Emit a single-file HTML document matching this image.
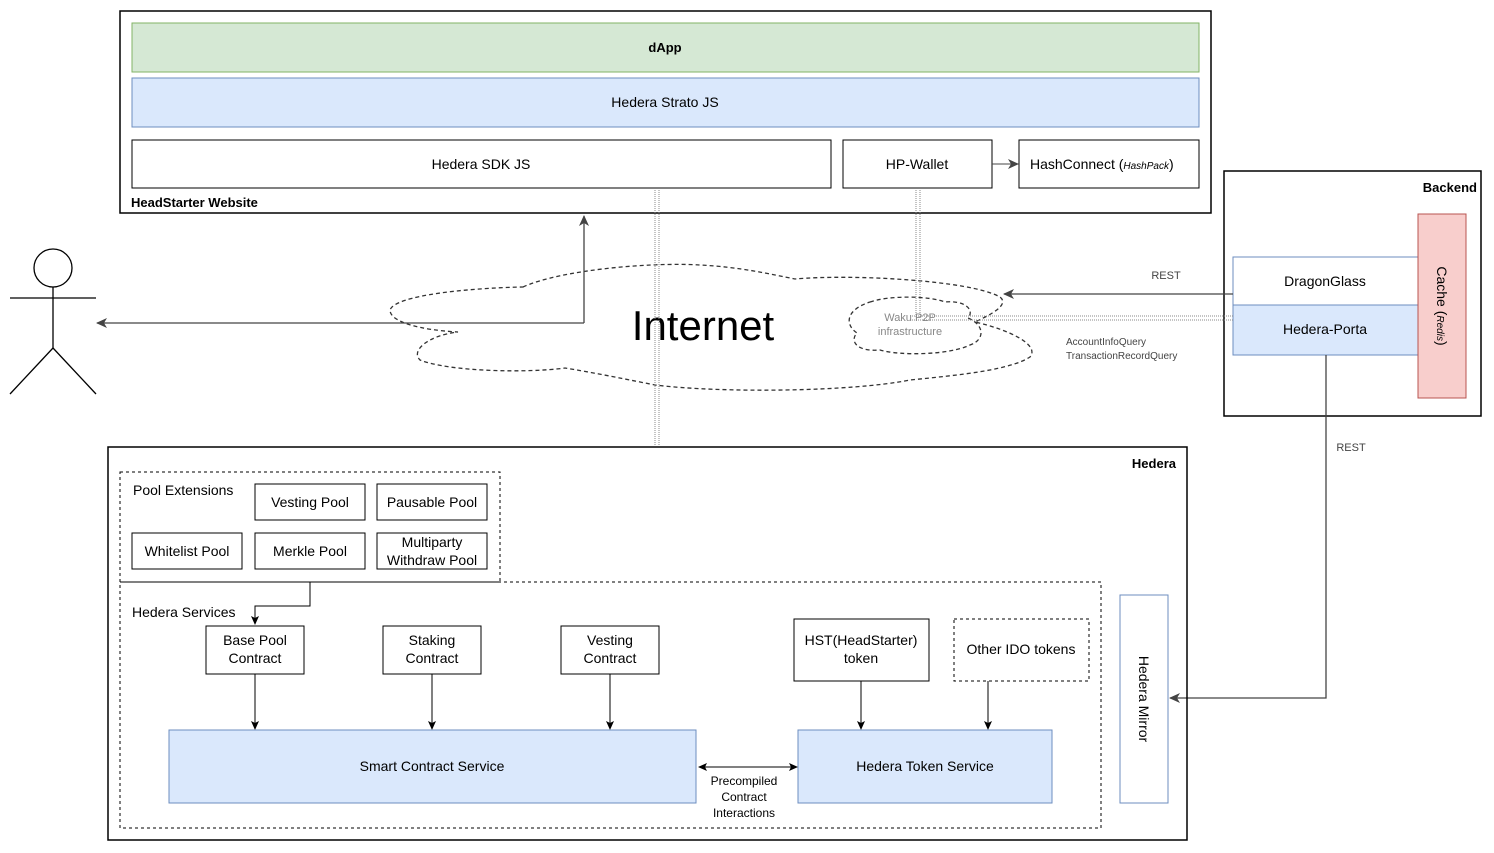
<!DOCTYPE html>
<html><head><meta charset="utf-8"><style>
html,body{margin:0;padding:0;background:#fff;}
svg{display:block;font-family:"Liberation Sans",Arial,sans-serif;}
</style></head><body>
<svg width="1494" height="853" viewBox="0 0 1494 853" xmlns="http://www.w3.org/2000/svg">
<defs>
<marker id="a" markerWidth="10" markerHeight="10" refX="8" refY="5" orient="auto" markerUnits="userSpaceOnUse"><path d="M0,1 L9,5 L0,9 L2,5 Z" fill="#000"/></marker>
<marker id="ag" markerWidth="12" markerHeight="12" refX="10" refY="6" orient="auto" markerUnits="userSpaceOnUse"><path d="M0,1 L11,6 L0,11 L3,6 Z" fill="#444"/></marker>
<marker id="as" markerWidth="10" markerHeight="10" refX="1" refY="5" orient="auto" markerUnits="userSpaceOnUse"><path d="M9,1 L0,5 L9,9 L7,5 Z" fill="#000"/></marker>
</defs>
<g font-size="14" fill="#000">
<rect x="120" y="11" width="1091" height="202" fill="none" stroke="#000" stroke-width="1.5"/>
<text x="131" y="207" font-weight="bold" font-size="13">HeadStarter Website</text>
<rect x="132" y="23" width="1067" height="49" fill="#d5e8d4" stroke="#82b366"/>
<text x="665" y="52" text-anchor="middle" font-weight="bold" font-size="13">dApp</text>
<rect x="132" y="78" width="1067" height="49" fill="#dae8fc" stroke="#6c8ebf"/>
<text x="665" y="107" text-anchor="middle">Hedera Strato JS</text>
<rect x="132" y="140" width="699" height="48" fill="#fff" stroke="#000"/>
<text x="481" y="169" text-anchor="middle">Hedera SDK JS</text>
<rect x="843" y="140" width="149" height="48" fill="#fff" stroke="#000"/>
<text x="917" y="169" text-anchor="middle">HP-Wallet</text>
<line x1="992" y1="164" x2="1018" y2="164" stroke="#444" marker-end="url(#ag)"/>
<rect x="1019" y="140" width="180" height="48" fill="#fff" stroke="#000"/>
<text x="1030" y="169">HashConnect (<tspan font-style="italic" font-size="10">HashPack</tspan>)</text>

<rect x="1224" y="171" width="257" height="245" fill="none" stroke="#000" stroke-width="1.5"/>
<text x="1477" y="192" text-anchor="end" font-weight="bold" font-size="13">Backend</text>
<rect x="1233" y="257" width="185" height="48" fill="#fff" stroke="#6c8ebf"/>
<text x="1325" y="286" text-anchor="middle">DragonGlass</text>
<rect x="1233" y="305" width="185" height="50" fill="#dae8fc" stroke="#6c8ebf"/>
<text x="1325" y="334" text-anchor="middle">Hedera-Porta</text>
<rect x="1418" y="214" width="48" height="184" fill="#f8cecc" stroke="#b85450"/>
<text transform="translate(1437,306) rotate(90)" text-anchor="middle">Cache (<tspan font-style="italic" font-size="10">Redis</tspan>)</text>

<g stroke="#000" stroke-width="1.3" fill="none">
<circle cx="53" cy="268" r="19"/>
<line x1="53" y1="287" x2="53" y2="348"/>
<line x1="10" y1="298" x2="96" y2="298"/>
<line x1="53" y1="348" x2="10" y2="394"/>
<line x1="53" y1="348" x2="96" y2="394"/>
</g>

<path d="M523,287 C560,270 650,262 700,265 C740,267 770,274 795,279 C850,274 970,280 1000,297 C1010,305 990,315 975,322 C1010,330 1040,345 1030,357 C1010,370 960,375 910,380 C850,392 720,393 655,385 C620,378 590,372 565,368 C530,373 450,372 420,360 C410,350 430,335 458,332 C420,330 390,322 390,310 C395,295 470,288 523,287 Z" fill="none" stroke="#333" stroke-dasharray="4,3" stroke-width="1.3"/>
<text x="703" y="340" text-anchor="middle" font-size="42">Internet</text>
<path d="M870,302 C890,295 930,296 945,302 C965,300 975,310 968,318 C985,325 985,340 970,345 C950,355 900,356 880,350 C855,352 850,340 857,333 C845,325 845,310 870,302 Z" fill="none" stroke="#333" stroke-dasharray="4,3" stroke-width="1.3"/>
<text x="910" y="321" text-anchor="middle" font-size="11" fill="#888">Waku P2P</text>
<text x="910" y="335" text-anchor="middle" font-size="11" fill="#888">infrastructure</text>

<g stroke="#888" stroke-dasharray="1,1" stroke-width="1">
<line x1="655" y1="190" x2="655" y2="445"/><line x1="659" y1="190" x2="659" y2="445"/>
<line x1="916" y1="190" x2="916" y2="318"/><line x1="920" y1="190" x2="920" y2="318"/>
<line x1="910" y1="316" x2="1233" y2="316"/><line x1="910" y1="320" x2="1233" y2="320"/>
</g>

<polyline points="584,323 97,323" fill="none" stroke="#444" stroke-width="1.3" marker-end="url(#ag)"/>
<polyline points="584,323 584,216" fill="none" stroke="#444" stroke-width="1.3" marker-end="url(#ag)"/>
<line x1="1233" y1="294" x2="1004" y2="294" stroke="#444" stroke-width="1.3" marker-end="url(#ag)"/>
<text x="1166" y="279" text-anchor="middle" font-size="11" fill="#444">REST</text>
<text x="1066" y="345" font-size="10" fill="#444">AccountInfoQuery</text>
<text x="1066" y="359" font-size="10" fill="#444">TransactionRecordQuery</text>
<polyline points="1326,355 1326,698 1170,698" fill="none" stroke="#444" stroke-width="1.3" marker-end="url(#ag)"/>
<text x="1351" y="451" text-anchor="middle" font-size="11" fill="#444">REST</text>

<rect x="108" y="447" width="1079" height="393" fill="none" stroke="#000" stroke-width="1.5"/>
<text x="1176" y="468" text-anchor="end" font-weight="bold" font-size="13">Hedera</text>
<rect x="120" y="472" width="380" height="110" fill="none" stroke="#000" stroke-dasharray="3,3"/>
<rect x="120" y="582" width="981" height="246" fill="none" stroke="#000" stroke-dasharray="3,3"/>
<text x="133" y="495">Pool Extensions</text>
<text x="132" y="617">Hedera Services</text>
<g fill="#fff" stroke="#000">
<rect x="255" y="484" width="110" height="36"/><rect x="377" y="484" width="110" height="36"/>
<rect x="132" y="533" width="110" height="36"/><rect x="255" y="533" width="110" height="36"/><rect x="377" y="533" width="110" height="36"/>
<rect x="206" y="626" width="98" height="48"/><rect x="383" y="626" width="98" height="48"/><rect x="561" y="626" width="98" height="48"/>
<rect x="794" y="619" width="135" height="62"/>
<rect x="954" y="619" width="135" height="62" stroke-dasharray="3,3"/>
<rect x="1120" y="595" width="48" height="208" stroke="#6c8ebf"/>
</g>
<g text-anchor="middle">
<text x="310" y="507">Vesting Pool</text><text x="432" y="507">Pausable Pool</text>
<text x="187" y="556">Whitelist Pool</text><text x="310" y="556">Merkle Pool</text>
<text x="432" y="547">Multiparty</text><text x="432" y="565">Withdraw Pool</text>
<text x="255" y="645">Base Pool</text><text x="255" y="663">Contract</text>
<text x="432" y="645">Staking</text><text x="432" y="663">Contract</text>
<text x="610" y="645">Vesting</text><text x="610" y="663">Contract</text>
<text x="861" y="645">HST(HeadStarter)</text><text x="861" y="663">token</text>
<text x="1021" y="654">Other IDO tokens</text>
</g>
<text transform="translate(1139,699) rotate(90)" text-anchor="middle">Hedera Mirror</text>
<polyline points="310,582 310,606 255,606 255,624" fill="none" stroke="#000" marker-end="url(#a)"/>
<g stroke="#000" marker-end="url(#a)">
<line x1="255" y1="674" x2="255" y2="729"/><line x1="432" y1="674" x2="432" y2="729"/><line x1="610" y1="674" x2="610" y2="729"/>
<line x1="861" y1="681" x2="861" y2="729"/><line x1="988" y1="681" x2="988" y2="729"/>
</g>
<rect x="169" y="730" width="527" height="73" fill="#dae8fc" stroke="#6c8ebf"/>
<text x="432" y="771" text-anchor="middle">Smart Contract Service</text>
<rect x="798" y="730" width="254" height="73" fill="#dae8fc" stroke="#6c8ebf"/>
<text x="925" y="771" text-anchor="middle">Hedera Token Service</text>
<line x1="699" y1="767" x2="797" y2="767" stroke="#000" marker-start="url(#as)" marker-end="url(#a)"/>
<g text-anchor="middle" font-size="12">
<text x="744" y="785">Precompiled</text><text x="744" y="801">Contract</text><text x="744" y="817">Interactions</text>
</g>
</g>
</svg>
</body></html>
